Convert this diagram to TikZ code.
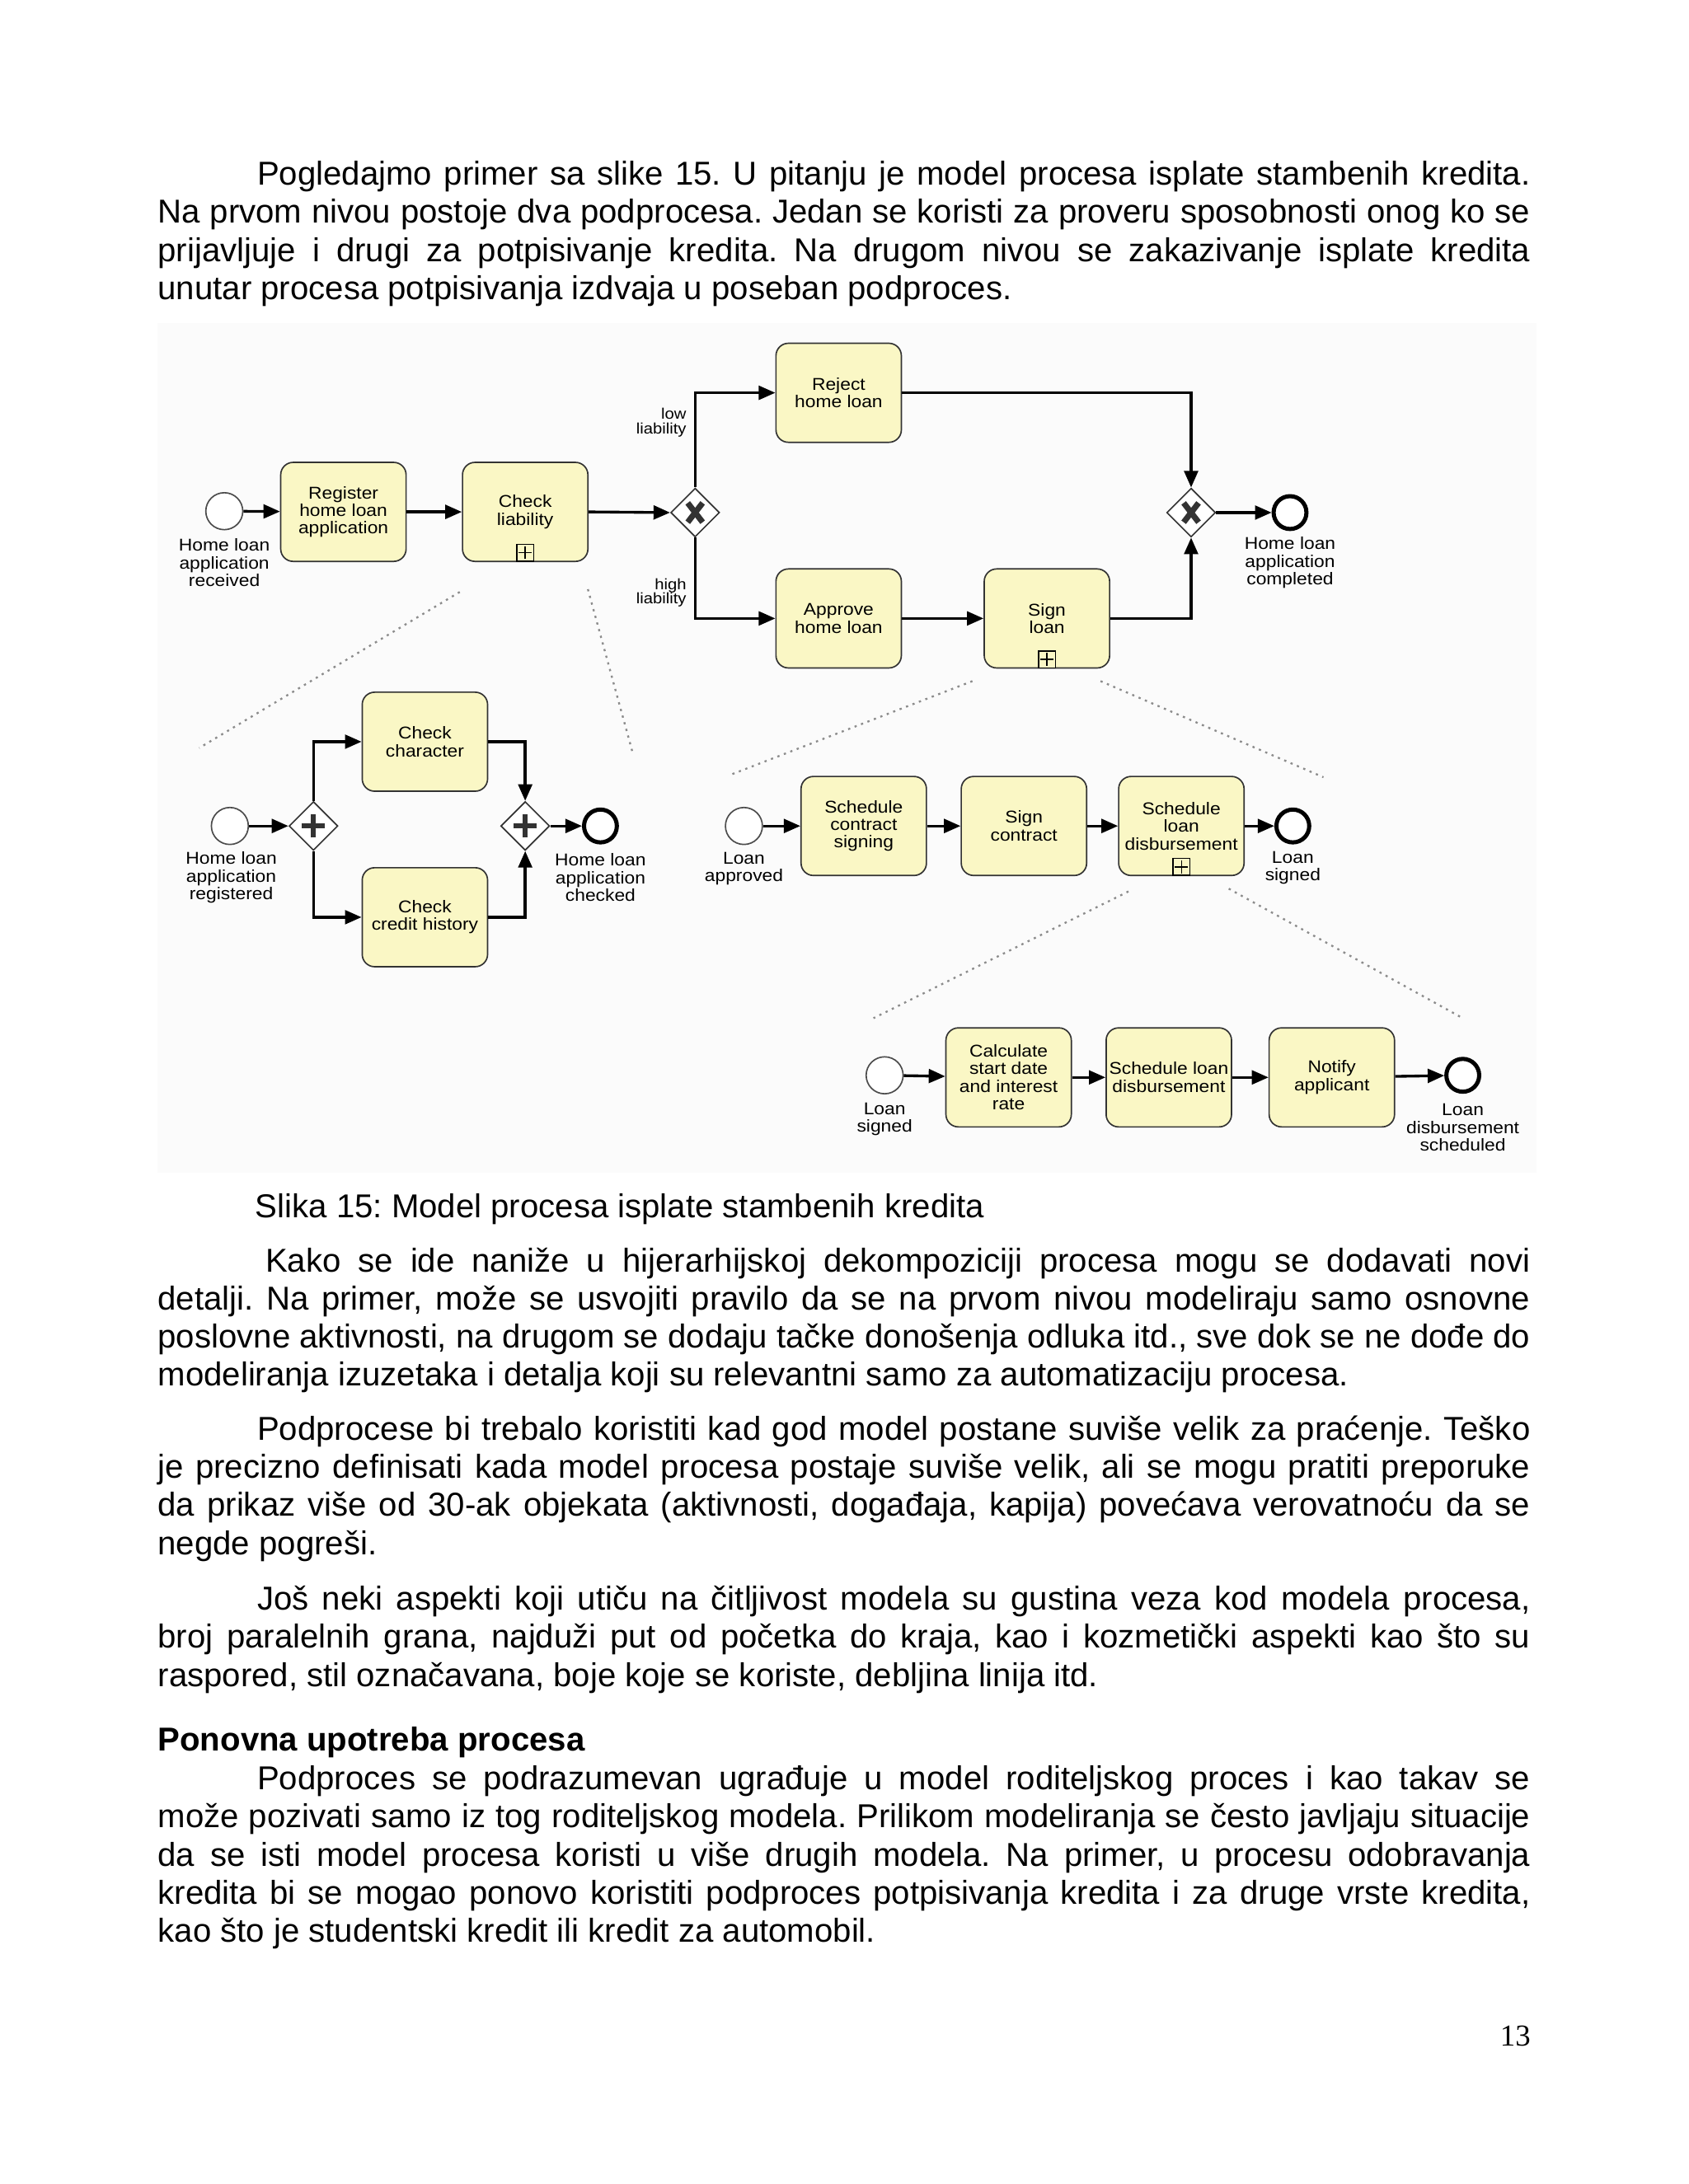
\documentclass[tikz,border=0pt]{standalone}
\usepackage{fontspec}
\setmainfont{Liberation Sans}
\newfontfamily\serifnum{Liberation Serif}
\newfontfamily\dfontfam[FakeStretch=1.1]{Liberation Sans}
\usetikzlibrary{shapes.geometric,arrows.meta,calc}
\definecolor{taskfill}{RGB}{250,247,197}
\newcommand\dfont{\dfontfam\fontsize{6.2}{6.4}\selectfont}
\newcommand\sfont{\dfontfam\fontsize{5.5}{5.2}\selectfont}
\newcommand\bodyfont{\fontsize{12}{13.8}\selectfont}
\tolerance=9999
\hyphenpenalty=10000
\exhyphenpenalty=10000
\frenchspacing
\tikzset{
  task/.style={draw=black!80, line width=0.5pt, fill=taskfill, rounded corners=4.5pt,
    minimum width=45.45pt, minimum height=35.9pt, inner sep=0pt, align=center, font=\dfont},
  startev/.style={circle, draw=black!70, line width=0.5pt, fill=white, minimum size=13.4pt, inner sep=0pt},
  endev/.style={circle, draw=black, line width=1.5pt, fill=white, minimum size=11.9pt, inner sep=0pt},
  gw/.style={diamond, draw=black!80, line width=0.5pt, fill=white, minimum width=17.7pt,
    minimum height=17.7pt, inner sep=0pt},
  xgw/.style={gw, path picture={
    \draw[line width=2.1pt] ([shift={(-2.7pt,-3.5pt)}]path picture bounding box.center) -- ([shift={(2.7pt,3.5pt)}]path picture bounding box.center);
    \draw[line width=2.1pt] ([shift={(-2.7pt,3.5pt)}]path picture bounding box.center) -- ([shift={(2.7pt,-3.5pt)}]path picture bounding box.center);}},
  pgw/.style={gw, path picture={
    \draw[line width=1.8pt] ([shift={(-4.2pt,0pt)}]path picture bounding box.center) -- ([shift={(4.2pt,0pt)}]path picture bounding box.center);
    \draw[line width=1.8pt] ([shift={(0pt,-4.2pt)}]path picture bounding box.center) -- ([shift={(0pt,4.2pt)}]path picture bounding box.center);}},
  submark/.style={draw=black, line width=0.5pt, fill=taskfill, minimum size=6.2pt, inner sep=0pt, anchor=south,
    path picture={
    \draw[line width=0.4pt] ([shift={(-2.3pt,0pt)}]path picture bounding box.center) -- ([shift={(2.3pt,0pt)}]path picture bounding box.center);
    \draw[line width=0.4pt] ([shift={(0pt,-2.3pt)}]path picture bounding box.center) -- ([shift={(0pt,2.3pt)}]path picture bounding box.center);}},
  flow/.style={line width=1pt, -{Triangle[length=6pt,width=5pt]}},
  lbl/.style={font=\dfont, align=center, inner sep=0pt},
  cond/.style={font=\sfont, align=right, inner sep=0pt, anchor=east},
  zoomline/.style={draw=black!45, line width=0.7pt, dash pattern=on 0.8pt off 1.7pt},
  para/.style={anchor=base west, text width=497.5pt, align=justify, inner sep=0pt, font=\bodyfont},
  plain/.style={anchor=base west, inner sep=0pt, font=\bodyfont},
}
\begin{document}
\begin{tikzpicture}[x=0.505pt, y=-0.505pt]
\useasboundingbox (0,0) rectangle (1212,1568);
\fill[white] (0,0) rectangle (1212,1568);
\fill[black!1.5] (113,232) rectangle (1103,842);

% ---------- body text ----------
\node[para] (p1) at (113,133) {\hspace*{36pt}Pogledajmo primer sa slike 15. U pitanju je model procesa isplate stambenih kredita.\linebreak
Na prvom nivou postoje dva podprocesa. Jedan se koristi za proveru sposobnosti onog ko se\linebreak
prijavljuje i drugi za potpisivanje kredita. Na drugom nivou se zakazivanje isplate kredita\linebreak
unutar procesa potpisivanja izdvaja u poseban podproces.};

\node[plain] (cap) at (183,874) {Slika 15: Model procesa isplate stambenih kredita};

\node[para] (p2) at (113,913) {\hspace*{39pt}Kako se ide naniže u hijerarhijskoj dekompoziciji procesa mogu se dodavati novi\linebreak
detalji. Na primer, može se usvojiti pravilo da se na prvom nivou modeliraju samo osnovne\linebreak
poslovne aktivnosti, na drugom se dodaju tačke donošenja odluka itd., sve dok se ne dođe do\linebreak
modeliranja izuzetaka i detalja koji su relevantni samo za automatizaciju procesa.};

\node[para] (p3) at (113,1034) {\hspace*{36pt}Podprocese bi trebalo koristiti kad god model postane suviše velik za praćenje. Teško\linebreak
je precizno definisati kada model procesa postaje suviše velik, ali se mogu pratiti preporuke\linebreak
da prikaz više od 30-ak objekata (aktivnosti, događaja, kapija) povećava verovatnoću da se\linebreak
negde pogreši.};

\node[para] (p4) at (113,1156) {\hspace*{36pt}Još neki aspekti koji utiču na čitljivost modela su gustina veza kod modela procesa,\linebreak
broj paralelnih grana, najduži put od početka do kraja, kao i kozmetički aspekti kao što su\linebreak
raspored, stil označavana, boje koje se koriste, debljina linija itd.};

\node[plain, font=\bodyfont\bfseries] (h1) at (113,1257) {Ponovna upotreba procesa};

\node[para] (p5) at (113,1285) {\hspace*{36pt}Podproces se podrazumevan ugrađuje u model roditeljskog proces i kao takav se\linebreak
može pozivati samo iz tog roditeljskog modela. Prilikom modeliranja se često javljaju situacije\linebreak
da se isti model procesa koristi u više drugih modela. Na primer, u procesu odobravanja\linebreak
kredita bi se mogao ponovo koristiti podproces potpisivanja kredita i za druge vrste kredita,\linebreak
kao što je studentski kredit ili kredit za automobil.};

\node[anchor=base east, inner sep=0pt, font=\serifnum\fontsize{11}{13}\selectfont] (pg) at (1099,1469) {13};

% ---------- zoom (dotted) lines ----------
\coordinate (z1a) at (330,425); \coordinate (z1b) at (143,537);
\coordinate (z2a) at (422,423); \coordinate (z2b) at (454,540);
\coordinate (z3a) at (698,489); \coordinate (z3b) at (525,556);
\coordinate (z4a) at (790,489); \coordinate (z4b) at (950,558);
\coordinate (z5a) at (810,640); \coordinate (z5b) at (627,731);
\coordinate (z6a) at (882,638); \coordinate (z6b) at (1050,731);
\draw[zoomline] (z1a) -- (z1b);
\draw[zoomline] (z2a) -- (z2b);
\draw[zoomline] (z3a) -- (z3b);
\draw[zoomline] (z4a) -- (z4b);
\draw[zoomline] (z5a) -- (z5b);
\draw[zoomline] (z6a) -- (z6b);

% ---------- top level ----------
\node[startev] (s0) at (161,367) {};
\node[task] (reg) at (246.5,367.5) {Register\\home loan\\application};
\node[task] (chk) at (377,367.5) {Check\\liability};
\node[submark] (chkm) at (chk.south) {};
\node[xgw] (gx1) at (499,368) {};
\node[task] (rej) at (602,282) {Reject\\home loan};
\node[task] (app) at (602,444) {Approve\\home loan};
\node[task] (sgn) at (751.5,444) {Sign\\loan};
\node[submark] (sgnm) at (sgn.south) {};
\node[xgw] (gx2) at (855,368) {};
\node[endev] (e0) at (926,368) {};
\node[lbl] (s0l) at (161,404) {Home loan\\application\\received};
\node[lbl] (e0l) at (926,404) {Home loan\\application\\completed};
\node[cond] (lowl) at (493,303.5) {low\\liability};
\node[cond] (highl) at (493,425.5) {high\\liability};

\draw[flow] (s0) -- (reg);
\draw[flow] (reg) -- (chk);
\draw[flow] (chk.east) -- (gx1.west);
\draw[flow] (gx1.north) |- (rej.west);
\draw[flow] (gx1.south) |- (app.west);
\draw[flow] (app) -- (sgn);
\draw[flow] (rej.east) -| (gx2.north);
\draw[flow] (sgn.east) -| (gx2.south);
\draw[flow] (gx2.east) -- (e0);

% ---------- check liability subprocess ----------
\node[startev] (s1) at (165,593) {};
\node[pgw] (pg1) at (225,593) {};
\node[task] (cc) at (305,532.5) {Check\\character};
\node[task] (ch) at (305,658.5) {Check\\credit history};
\node[pgw] (pg2) at (377,593) {};
\node[endev] (e1) at (431,593) {};
\node[lbl] (s1l) at (166,630) {Home loan\\application\\registered};
\node[lbl] (e1l) at (431,630) {Home loan\\application\\checked};
\draw[flow] (s1) -- (pg1);
\draw[flow] (pg1.north) |- (cc.west);
\draw[flow] (pg1.south) |- (ch.west);
\draw[flow] (cc.east) -| (pg2.north);
\draw[flow] (ch.east) -| (pg2.south);
\draw[flow] (pg2.east) -- (e1);

% ---------- sign loan subprocess ----------
\node[startev] (s2) at (534,593) {};
\node[task] (scs) at (620,593) {Schedule\\contract\\signing};
\node[task] (sc) at (735,593) {Sign\\contract};
\node[task] (sld) at (848,593) {Schedule\\loan\\disbursement};
\node[submark] (sldm) at (sld.south) {};
\node[endev] (e2) at (928,593) {};
\node[lbl] (s2l) at (534,623.5) {Loan\\approved};
\node[lbl] (e2l) at (928,623) {Loan\\signed};
\draw[flow] (s2) -- (scs);
\draw[flow] (scs) -- (sc);
\draw[flow] (sc) -- (sld);
\draw[flow] (sld) -- (e2);

% ---------- schedule loan disbursement subprocess ----------
\node[startev] (s3) at (635,772) {};
\node[task] (calc) at (724,773.5) {Calculate\\start date\\and interest\\rate};
\node[task] (sld2) at (839,773.5) {Schedule loan\\disbursement};
\node[task] (ntf) at (956,773.5) {Notify\\applicant};
\node[endev] (e3) at (1050,772) {};
\node[lbl] (s3l) at (635,803.5) {Loan\\signed};
\node[lbl] (e3l) at (1050,809.5) {Loan\\disbursement\\scheduled};
\draw[flow] (s3) -- (calc);
\draw[flow] (calc) -- (sld2);
\draw[flow] (sld2) -- (ntf);
\draw[flow] (ntf) -- (e3);
\end{tikzpicture}
\end{document}
